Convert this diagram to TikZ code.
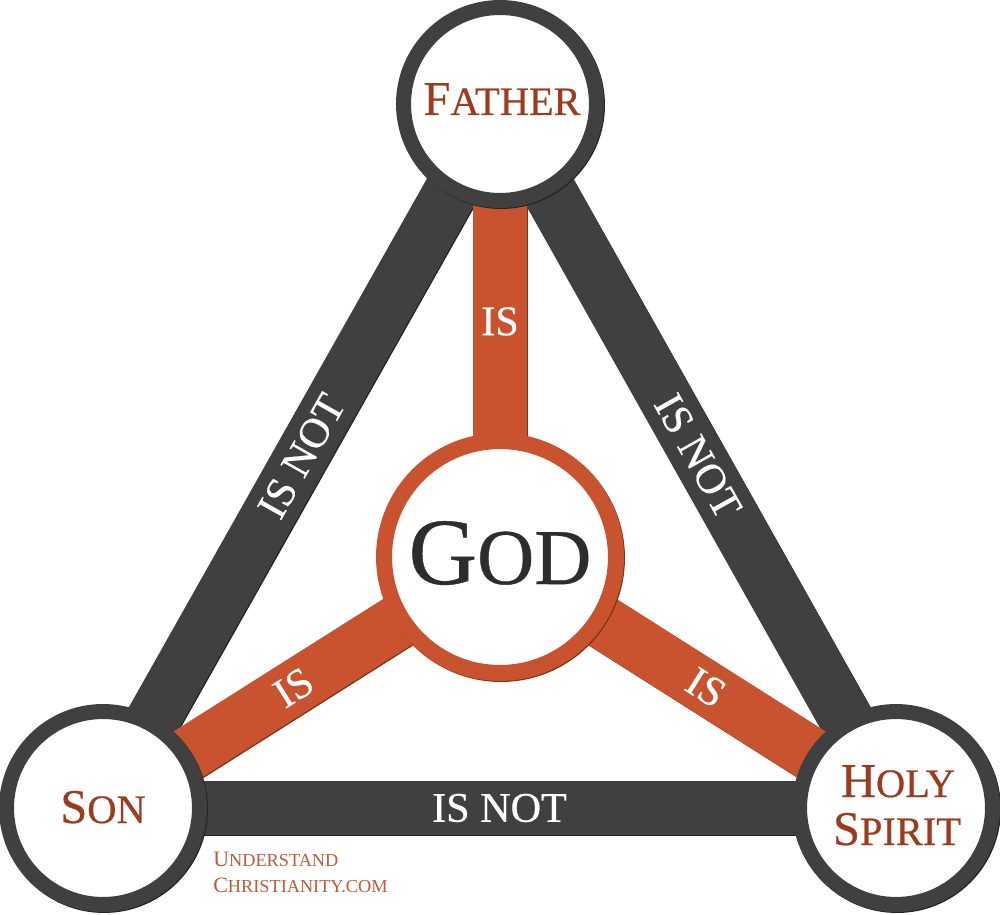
\documentclass[tikz,border=0pt]{standalone}
\usepackage{fontspec}
\usepackage{graphicx}
\setmainfont{Liberation Serif}
\newfontfamily\namefont[FakeBold=0.5]{Liberation Serif}
\usetikzlibrary{backgrounds}
\definecolor{ringdark}{HTML}{404040}
\definecolor{edgedark}{HTML}{242424}
\definecolor{ringred}{HTML}{C9532F}
\definecolor{edgered}{HTML}{7E3218}
\definecolor{namered}{HTML}{9C3B1E}
\definecolor{sitered}{HTML}{BC5A3C}
\definecolor{godblack}{HTML}{2D2D2D}
\newcommand{\bigcapital}[1]{\scalebox{1.2}{#1}}
\tikzset{
  person/.style={circle, fill=white, draw=ringdark, line width=0.3cm, inner sep=0pt, outer sep=0pt,
    minimum size=3.86cm, preaction={draw=edgedark, line width=0.3cm, transform canvas={shift={(1,1)}}}},
  godring/.style={circle, fill=white, draw=ringred, line width=0.32cm, inner sep=0pt, outer sep=0pt,
    minimum size=4.64cm, preaction={draw=edgered, line width=0.32cm, transform canvas={shift={(1,1)}}}},
  personname/.style={anchor=base, text=namered, font=\namefont\fontsize{23}{23}\selectfont},
  sitename/.style={anchor=base west, inner sep=0pt, text=sitered, font=\fontsize{10.4}{10.4}\selectfont},
  darkbar/.style={draw=ringdark, line width=1.08cm, preaction={draw=edgedark, line width=1.08cm, transform canvas={shift={(1,1)}}}},
  redbar/.style={draw=ringred, line width=1.08cm, preaction={draw=edgered, line width=1.08cm, transform canvas={shift={(1,1)}}}},
  barlabel/.style={text=white, inner sep=0pt, font=\namefont\fontsize{24}{24}\selectfont}
}
\begin{document}
\begin{tikzpicture}[x=0.02cm, y=-0.02cm]
\useasboundingbox (0,0) rectangle (1000,915);

\node[person] (father) at (500,104) {};
\node[person] (son) at (103,808) {};
\node[person] (spirit) at (896,808) {};
\node[godring] (god) at (500,557) {};

\begin{scope}[on background layer]
\draw[darkbar] (father.center) -- node[barlabel, midway, sloped] (notleft) {IS NOT} (son.center);
\draw[darkbar] (father.center) -- node[barlabel, midway, sloped] (notright) {IS NOT} (spirit.center);
\draw[darkbar] (son.center) -- node[barlabel, midway] (notbottom) {IS NOT} (spirit.center);
\draw[redbar] (god.center) -- node[barlabel, pos=0.52] (isup) {IS} (father.center);
\draw[redbar] (god.center) -- node[barlabel, pos=0.52, sloped] (isleft) {IS} (son.center);
\draw[redbar] (god.center) -- node[barlabel, pos=0.52, sloped] (isright) {IS} (spirit.center);
\end{scope}

\node[personname] (fathername) at (502,115) {\bigcapital{F}ATHER};
\node[personname] (sonname) at (103,823) {\bigcapital{S}ON};
\node[personname] (holyname) at (898,797) {\bigcapital{H}OLY};
\node[personname] (spiritname) at (897,845) {\bigcapital{S}PIRIT};
\node[anchor=base, text=godblack, font=\namefont\fontsize{45}{45}\selectfont] (godname) at (500,584) {\bigcapital{G}OD};

\node[sitename] (siteone) at (213,866) {\bigcapital{U}NDERSTAND};
\node[sitename] (sitetwo) at (213,892) {\bigcapital{C}HRISTIANITY.COM};
\end{tikzpicture}
\end{document}
